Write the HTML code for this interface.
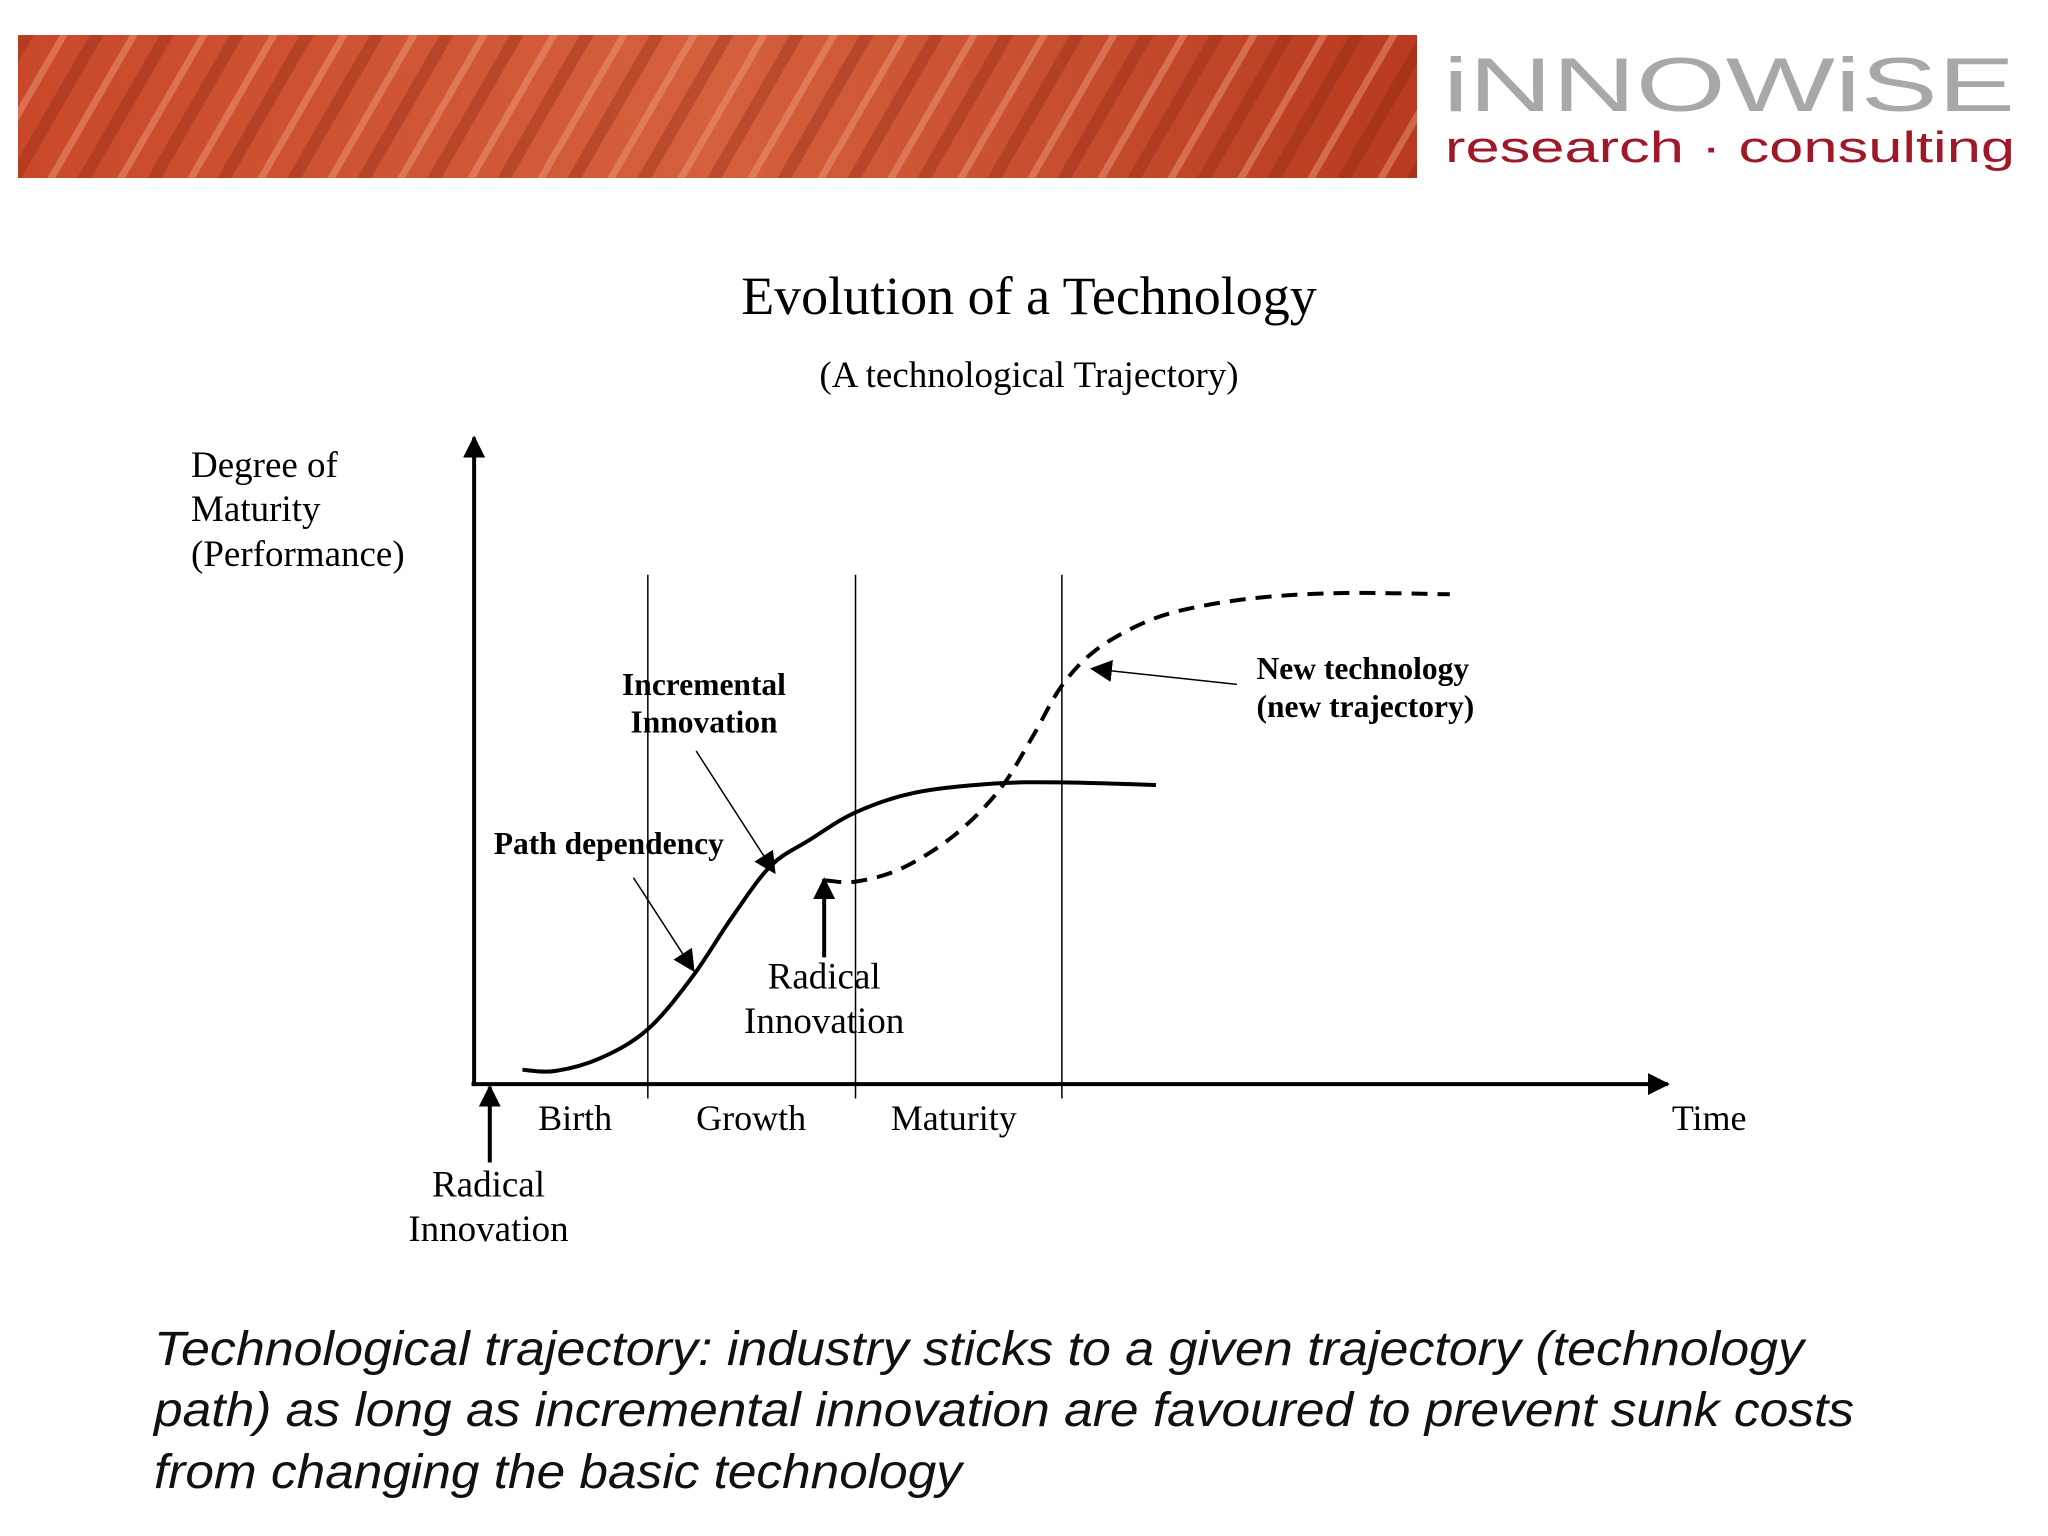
<!DOCTYPE html>
<html><head><meta charset="utf-8"><style>html,body{margin:0;padding:0;background:#fff}svg{display:block}</style></head>
<body>
<svg width="2048" height="1536" viewBox="0 0 2048 1536" xmlns="http://www.w3.org/2000/svg" font-family="Liberation Serif, serif">
<defs>
<linearGradient id="bg" x1="0" y1="0" x2="1" y2="0">
<stop offset="0" stop-color="#c9482a"/><stop offset="0.5" stop-color="#d5603d"/><stop offset="1" stop-color="#b83a20"/></linearGradient>
<pattern id="streak" width="70" height="143" patternUnits="userSpaceOnUse" patternTransform="skewX(-30)">
<rect width="70" height="143" fill="none"/><rect x="10" width="8" height="143" fill="#f0a080" opacity="0.45"/><rect x="40" width="14" height="143" fill="#8a2410" opacity="0.35"/></pattern>
<marker id="ahb" markerWidth="22" markerHeight="22" refX="20" refY="11" orient="auto" markerUnits="userSpaceOnUse"><path d="M0,0 L22,11 L0,22 Z" fill="#000"/></marker>
</defs>
<g>
<rect x="18" y="35" width="1399" height="143" fill="url(#bg)"/>
<rect x="18" y="35" width="1399" height="143" fill="url(#streak)"/>
</g>
<g font-family="Liberation Sans, sans-serif">
<text x="1443" y="111" font-size="76" fill="#a8a8a8" textLength="572" lengthAdjust="spacingAndGlyphs">iNNOWiSE</text>
<text x="1445" y="162" font-size="44" fill="#a01828" textLength="570" lengthAdjust="spacingAndGlyphs">research · consulting</text>
</g>
<text x="1029" y="314" font-size="54" text-anchor="middle">Evolution of a Technology</text>
<text x="1029" y="387" font-size="37" text-anchor="middle">(A technological Trajectory)</text>
<g font-size="37">
<text x="191" y="477">Degree of</text><text x="191" y="521">Maturity</text><text x="191" y="566">(Performance)</text></g>
<g id="chart"></g>
<g font-family="Liberation Sans, sans-serif" font-style="italic" font-size="48" fill="#111">
<text x="154" y="1365" textLength="1650" lengthAdjust="spacingAndGlyphs">Technological trajectory: industry sticks to a given trajectory (technology</text>
<text x="154" y="1426" textLength="1700" lengthAdjust="spacingAndGlyphs">path) as long as incremental innovation are favoured to prevent sunk costs</text>
<text x="154" y="1488" textLength="808" lengthAdjust="spacingAndGlyphs">from changing the basic technology</text>
</g>
</svg>
<script>
const solidTime=[400,425,460,496,530,560,590,620,655,700,760,813,885];
const solidMaturity=[819,820,810,788,748,703,663,643,622,607,600,599,601];
const newTime=[632,655,690,730,765,790,813,840,880,920,970,1030,1110];
const newMaturity=[674,675,665,640,605,565,525,497,475,464,457,454,455];
const stageBounds=[496,655,813];
const stageLabels=['Birth','Growth','Maturity'];
const stageLabelX=[412,533,682];
const S=2048/1568;
const x=v=>v*S, y=v=>v*S;
const NS='http://www.w3.org/2000/svg';
const g=document.getElementById('chart');
function mk(t,a,txt){const e=document.createElementNS(NS,t);for(const k in a)e.setAttribute(k,a[k]);if(txt)e.textContent=txt;g.appendChild(e);return e;}
function smooth(xs,ys){let d='M'+x(xs[0])+','+y(ys[0]);for(let i=0;i<xs.length-1;i++){const p0=[x(xs[Math.max(0,i-1)]),y(ys[Math.max(0,i-1)])],p1=[x(xs[i]),y(ys[i])],p2=[x(xs[i+1]),y(ys[i+1])],p3=[x(xs[Math.min(xs.length-1,i+2)]),y(ys[Math.min(xs.length-1,i+2)])];d+=` C${p1[0]+(p2[0]-p0[0])/6},${p1[1]+(p2[1]-p0[1])/6} ${p2[0]-(p3[0]-p1[0])/6},${p2[1]-(p3[1]-p1[1])/6} ${p2[0]},${p2[1]}`;}return d;}
let e;
e=mk('line',{x1:x(363),y1:y(831),x2:x(363),y2:y(335),stroke:'#000','stroke-width':4,'marker-end':'url(#ahb)'});


e=mk('line',{x1:x(361),y1:y(830),x2:x(1277),y2:y(830),stroke:'#000','stroke-width':4,'marker-end':'url(#ahb)'});


stageBounds.forEach((b,i)=>{e=mk('line',{x1:x(b),y1:y(440),x2:x(b),y2:y(841),stroke:'#000','stroke-width':1.5});

});
stageLabels.forEach((s,i)=>{e=mk('text',{x:x(stageLabelX[i]),y:y(865),'font-size':36},s);

});
e=mk('text',{x:x(1280),y:y(865),'font-size':36},'Time');


e=mk('path',{d:smooth(solidTime,solidMaturity),fill:'none',stroke:'#000','stroke-width':4});


e=mk('path',{d:smooth(newTime,newMaturity),fill:'none',stroke:'#000','stroke-width':4,'stroke-dasharray':'16,10'});


function arrow(name,x1,y1,x2,y2,w,m){e=mk('line',{x1:x(x1),y1:y(y1),x2:x(x2),y2:y(y2),stroke:'#000','stroke-width':w,'marker-end':m});

}
arrow('radical-innovation-arrow-origin',375,890,375,832,4,'url(#ahb)');
arrow('radical-innovation-arrow-mid',631,733,631,673,4,'url(#ahb)');
arrow('path-dependency-arrow',485,672,531,743,1.5,'url(#ahb)');
arrow('incremental-innovation-arrow',533,575,593,668,1.5,'url(#ahb)');
arrow('new-technology-arrow',947,524,836,512,1.5,'url(#ahb)');
function label(name,lines,cx,ys,anchor,bold){lines.forEach((t,i)=>{e=mk('text',{x:x(cx),y:y(ys[i]),'font-size':bold?31.5:37,'font-weight':bold?'bold':'normal','text-anchor':anchor},t);

});}
label('radical-innovation-label-origin',['Radical','Innovation'],374,[916,950],'middle',false);
label('radical-innovation-label-mid',['Radical','Innovation'],631,[757,791],'middle',false);
label('path-dependency-label',['Path dependency'],378,[654],'start',true);
label('incremental-innovation-label',['Incremental','Innovation'],539,[532,561],'middle',true);
label('new-technology-label',['New technology','(new trajectory)'],962,[520,549],'start',true);
</script>
</body></html>
